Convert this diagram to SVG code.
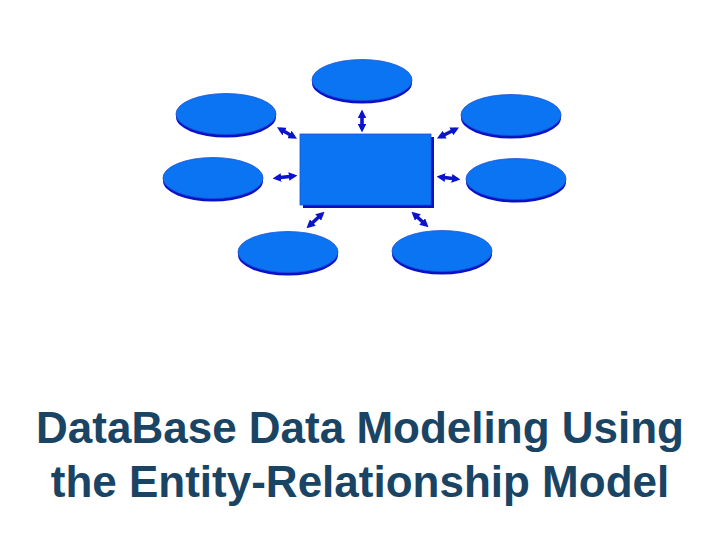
<svg xmlns="http://www.w3.org/2000/svg" width="720" height="556" viewBox="0 0 720 556">
<style>
.rim{fill:#0b12c6;}
.face{fill:#0a74f2;stroke:#1d50d6;stroke-width:0.8;}
.conn{stroke:#0b14cc;stroke-width:3.6;fill:none;marker-start:url(#ah);marker-end:url(#ah);}
.title{font-family:"Liberation Sans",Arial,sans-serif;font-weight:bold;font-size:44px;fill:#1a4464;text-anchor:middle;}
</style>
<defs>
<marker id="ah" viewBox="0 0 10 10" refX="6" refY="5" markerWidth="2.4" markerHeight="2.4" orient="auto-start-reverse" markerUnits="strokeWidth">
<path d="M0,0 L10,5 L0,10 z" fill="#0b14cc"/>
</marker>
</defs>
<rect width="720" height="556" fill="#ffffff"/>
<g id="connectors">
<line class="conn" x1="362" y1="113" x2="362" y2="129"/>
<line class="conn" x1="280" y1="129" x2="294" y2="137"/>
<line class="conn" x1="276" y1="178" x2="294" y2="176"/>
<line class="conn" x1="440" y1="137" x2="456" y2="129"/>
<line class="conn" x1="440" y1="177" x2="457" y2="179"/>
<line class="conn" x1="414" y1="214" x2="426" y2="225"/>
<line class="conn" x1="309" y1="226" x2="322" y2="214"/>
</g>
<g id="entity">
<rect x="303" y="137" width="131" height="71" class="rim"/>
<rect x="300" y="134" width="131" height="71" class="face"/>
</g>
<g id="attr-top">
<ellipse cx="362" cy="83" rx="50" ry="20.5" class="rim"/>
<ellipse cx="362" cy="80" rx="50" ry="20.5" class="face"/>
</g>
<g id="attr-upper-left">
<ellipse cx="226" cy="117" rx="50" ry="20.5" class="rim"/>
<ellipse cx="226" cy="114" rx="50" ry="20.5" class="face"/>
</g>
<g id="attr-left">
<ellipse cx="213" cy="181" rx="50" ry="20.5" class="rim"/>
<ellipse cx="213" cy="178" rx="50" ry="20.5" class="face"/>
</g>
<g id="attr-upper-right">
<ellipse cx="511" cy="118" rx="50" ry="20.5" class="rim"/>
<ellipse cx="511" cy="115" rx="50" ry="20.5" class="face"/>
</g>
<g id="attr-right">
<ellipse cx="516" cy="182" rx="50" ry="20.5" class="rim"/>
<ellipse cx="516" cy="179" rx="50" ry="20.5" class="face"/>
</g>
<g id="attr-bottom-left">
<ellipse cx="288" cy="255" rx="50" ry="20.5" class="rim"/>
<ellipse cx="288" cy="252" rx="50" ry="20.5" class="face"/>
</g>
<g id="attr-bottom-right">
<ellipse cx="442" cy="254" rx="50" ry="20.5" class="rim"/>
<ellipse cx="442" cy="251" rx="50" ry="20.5" class="face"/>
</g>
<g id="title">
<text class="title" x="360" y="443">DataBase Data Modeling Using</text>
<text class="title" x="360" y="497">the Entity-Relationship Model</text>
</g>
</svg>
